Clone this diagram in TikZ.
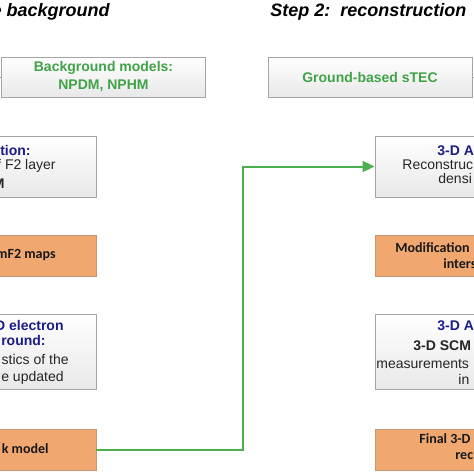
\documentclass[tikz,border=0pt]{standalone}
\usepackage{fontspec}
\setmainfont{Liberation Sans}
\newfontfamily\calfont{Carlito}
\usetikzlibrary{arrows.meta,positioning}
\definecolor{stepblue}{RGB}{28,28,135}
\definecolor{stepgreen}{RGB}{64,163,72}
\definecolor{arrowgreen}{RGB}{76,175,80}
\definecolor{boxorange}{RGB}{240,167,112}
\definecolor{orangeline}{RGB}{200,150,115}
\definecolor{boxline}{RGB}{165,165,165}

\begin{document}
\begin{tikzpicture}[x=1pt, y=-1pt,
    greybox/.style={rectangle, draw=boxline, line width=0.9pt, top color=white, bottom color=black!9, inner sep=0pt, minimum width=204pt},
    orangebox/.style={rectangle, draw=orangeline, line width=0.9pt, fill=boxorange, inner sep=0pt, minimum width=204pt, minimum height=41pt},
    title/.style={inner sep=0pt, font=\fontsize{18}{20}\selectfont\bfseries\itshape},
    txt/.style={inner sep=0pt, font=\fontsize{14}{16}\selectfont, text=black!85},
    head/.style={inner sep=0pt, font=\fontsize{14}{16}\selectfont\bfseries, text=stepblue},
    boldtxt/.style={inner sep=0pt, font=\fontsize{14}{16}\selectfont\bfseries, text=black!85},
    otxt/.style={inner sep=0pt, font=\fontsize{14}{16}\selectfont\calfont\bfseries, text=black!90},
    thick
  ]
  \useasboundingbox (0,0) rectangle (474,474);
  \clip (0,0) rectangle (474,474);

  % step titles
  \node[title, anchor=base east] (title1) at (110,16) {e background};
  \node[title, anchor=base west] (title2) at (270,16) {Step 2:\ \ reconstruction};

  % top row: inputs
  \node[greybox, minimum height=40pt, align=center, font=\fontsize{14}{18}\selectfont\bfseries, text=stepgreen] (bgmod) at (103.5,77) {Background models:\\NPDM, NPHM};
  \node[greybox, minimum height=40pt, font=\fontsize{14}{16}\selectfont\bfseries, text=stepgreen] (stec) at (370,77) {Ground-based sTEC};
  \coordinate (inL) at (-20,77);
  \coordinate (outR) at (495,77);
  \draw[boxline, line width=0.9pt] (inL) -- (bgmod.west);
  \draw[boxline, line width=0.9pt] (stec.east) -- (outR);

  % step 1 column
  \node[greybox, minimum height=61pt] (f2box) at (-6,166.5) {};
  \node[orangebox] (nmf2) at (-6,255.5) {};
  \node[greybox, minimum height=75pt] (bgbox) at (-6,351.5) {};
  \node[orangebox] (kmodel) at (-6,449.5) {};

  \node[head, anchor=base east] (f2a) at (31,155) {tion:};
  \node[txt, anchor=base east] (f2b) at (56,169) {f F2 layer};
  \node[boldtxt, anchor=base east] (f2c) at (5,188) {M};
  \node[otxt, anchor=base east] (nmf2a) at (56,258) {mF2 maps};
  \node[head, anchor=base east] (bga) at (64,330) {D electron};
  \node[head, anchor=base east] (bgb) at (46,345) {round:};
  \node[txt, anchor=base east] (bgc) at (69,364) {stics of the};
  \node[txt, anchor=base east] (bgd) at (64,381) {e updated};
  \node[otxt, anchor=base east] (kma) at (49,453) {k model};

  % step 2 column
  \node[greybox, minimum height=61pt] (recon) at (477,166.5) {};
  \node[orangebox] (modif) at (477,255.5) {};
  \node[greybox, minimum height=75pt] (scm) at (477,351.5) {};
  \node[orangebox] (final) at (477,449.5) {};

  \node[head, anchor=base west] (reca) at (437,155) {3-D A};
  \node[txt, anchor=base west] (recb) at (402,169) {Reconstruc};
  \node[txt, anchor=base west] (recc) at (438,183) {densi};
  \node[otxt, anchor=base west] (moda) at (395,252) {Modification};
  \node[otxt, anchor=base west] (modb) at (443,268) {inters};
  \node[head, anchor=base west] (scma) at (437,330) {3-D A};
  \node[boldtxt, anchor=base west] (scmb) at (413,350) {3-D SCM};
  \node[txt, anchor=base west] (scmc) at (376,368) {measurements};
  \node[txt, anchor=base west] (scmd) at (458,384) {in};
  \node[otxt, anchor=base west] (fina) at (419,443) {Final 3-D};
  \node[otxt, anchor=base west] (finb) at (455,459) {rec};

  % model handed over to step 2
  \coordinate (turn) at (243,449.5);
  \draw[arrowgreen, line width=2pt, -{Triangle[length=12pt,width=11pt]}] (kmodel.east) -- (turn) |- (recon.west);
\end{tikzpicture}
\end{document}
